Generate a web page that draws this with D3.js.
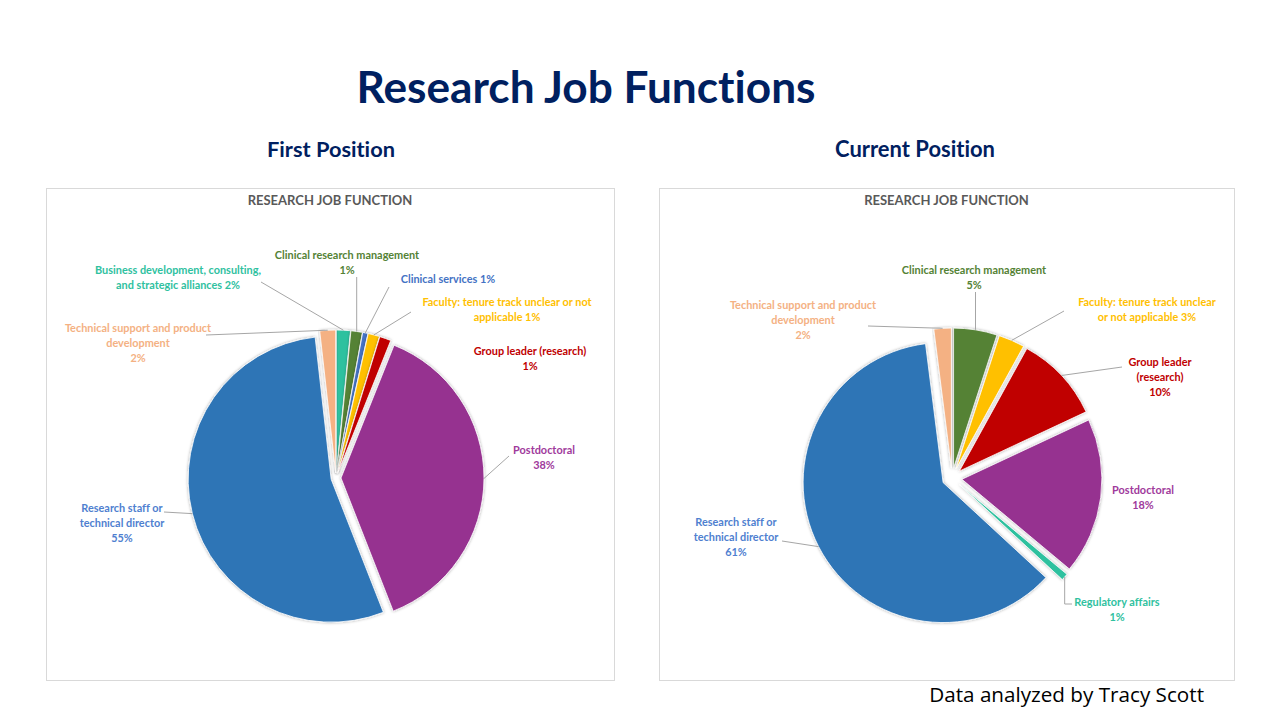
<!DOCTYPE html>
<html>
<head>
<meta charset="utf-8">
<script src="https://cdn.jsdelivr.net/npm/d3@7"></script>
<style>
  body { margin: 0; background: #fff; }
  svg { display: block; }
  text { font-variant-ligatures: none; font-feature-settings: "liga" 0; }
</style>
</head>
<body>
<svg id="chart"></svg>
<script>
// ---- data ----
const firstCategories = [
  "Business development, consulting, and strategic alliances",
  "Clinical research management",
  "Clinical services",
  "Faculty: tenure track unclear or not applicable",
  "Group leader (research)",
  "Postdoctoral",
  "Research staff or technical director",
  "Technical support and product development"
];
const firstValues = [1.6, 1.3, 0.6, 1.3, 1.3, 38.3, 54.6, 1.8];
const firstPct = [2, 1, 1, 1, 1, 38, 55, 2];

const currentCategories = [
  "Clinical research management",
  "Faculty: tenure track unclear or not applicable",
  "Group leader (research)",
  "Postdoctoral",
  "Regulatory affairs",
  "Research staff or technical director",
  "Technical support and product development"
];
const currentValues = [5, 3, 10, 18, 0.8, 61, 2];
const currentPct = [5, 3, 10, 18, 1, 61, 2];

// ---- styles ----
const sliceColor = {
  "Business development, consulting, and strategic alliances": "#2fc19f",
  "Clinical research management": "#548235",
  "Clinical services": "#4472c4",
  "Faculty: tenure track unclear or not applicable": "#ffc000",
  "Group leader (research)": "#c00000",
  "Postdoctoral": "#963290",
  "Research staff or technical director": "#2e75b6",
  "Technical support and product development": "#f4b183",
  "Regulatory affairs": "#2fc19f"
};
const labelColor = Object.assign({}, sliceColor, {
  "Research staff or technical director": "#4f7fd0",
  "Postdoctoral": "#a03a9c"
});

const W = 1280, H = 720;
const svg = d3.select("#chart").attr("width", W).attr("height", H);
svg.append("rect").attr("width", W).attr("height", H).attr("fill", "#fff");

const defs = svg.append("defs");
const f = defs.append("filter").attr("id", "glow")
  .attr("x", "-10%").attr("y", "-10%").attr("width", "120%").attr("height", "120%");
f.append("feDropShadow").attr("dx", 0).attr("dy", 0).attr("stdDeviation", 1.6)
  .attr("flood-color", "#000").attr("flood-opacity", 0.35);

function fitWidth(sel, target) {
  const fs = +sel.attr("font-size");
  const w = sel.node().getComputedTextLength();
  sel.attr("font-size", fs * target / w);
}

// headings
const title = svg.append("text").attr("x", 586).attr("y", 103)
  .attr("text-anchor", "middle").attr("font-family", "Lato, sans-serif")
  .attr("font-weight", 700).attr("font-size", 40).attr("fill", "#002060")
  .text("Research Job Functions");
fitWidth(title, 459);

[["First Position", 331], ["Current Position", 915]].forEach(([t, x]) => {
  const s = svg.append("text").attr("x", x).attr("y", 157)
    .attr("text-anchor", "middle").attr("font-family", "Lato, sans-serif")
    .attr("font-weight", 700).attr("font-size", 20).attr("fill", "#002060").text(t);
  fitWidth(s, t === "First Position" ? 128 : 160);
});

const credit = svg.append("text").attr("x", 1204).attr("y", 702)
  .attr("text-anchor", "end").attr("font-family", "'Open Sans', sans-serif")
  .attr("font-size", 20).attr("fill", "#000").text("Data analyzed by Tracy Scott");
fitWidth(credit, 275);

// ---- chart layouts ----
const layouts = [
  {
    cats: firstCategories, vals: firstValues, pct: firstPct,
    frame: [46, 188, 568, 492], cx: 336, cy: 478, r: 143, explode: 5,
    labels: {
      "Business development, consulting, and strategic alliances": { x: 178, y: 274, words: [3, 4], from: [261, 282] },
      "Clinical research management": { x: 347, y: 259, words: [3, 1], vert: 277 },
      "Clinical services": { x: 448, y: 283, words: [3], from: [389, 287] },
      "Faculty: tenure track unclear or not applicable": { x: 507, y: 306, words: [6, 2], from: [411, 312] },
      "Group leader (research)": { x: 530, y: 355, words: [3, 1] },
      "Postdoctoral": { x: 544, y: 454, words: [1, 1], from: [509, 456] },
      "Research staff or technical director": { x: 122, y: 512, words: [3, 2, 1], from: [164, 512] },
      "Technical support and product development": { x: 138, y: 332, words: [4, 1, 1], from: [206, 335] }
    }
  },
  {
    cats: currentCategories, vals: currentValues, pct: currentPct,
    frame: [659, 188, 575, 492], cx: 952, cy: 478, r: 140, explode: 10,
    labels: {
      "Clinical research management": { x: 974, y: 274, words: [3, 1], vert: 292 },
      "Faculty: tenure track unclear or not applicable": { x: 1147, y: 306, words: [4, 4], from: [1064, 311] },
      "Group leader (research)": { x: 1160, y: 366, words: [2, 1, 1], from: [1122, 367] },
      "Postdoctoral": { x: 1143, y: 494, words: [1, 1] },
      "Regulatory affairs": { x: 1117, y: 606, words: [2, 1], elbow: [1072, 604] },
      "Research staff or technical director": { x: 736, y: 526, words: [3, 2, 1], from: [782, 541] },
      "Technical support and product development": { x: 803, y: 309, words: [4, 1, 1], from: [868, 326] }
    }
  }
];

layouts.forEach(L => {
  const [fx, fy, fw, fh] = L.frame;
  const g = svg.append("g");
  g.append("rect").attr("x", fx + 0.5).attr("y", fy + 0.5).attr("width", fw).attr("height", fh)
    .attr("fill", "#fff").attr("stroke", "#d9d9d9").attr("stroke-width", 1);
  g.append("text").attr("x", fx + fw / 2).attr("y", fy + 17)
    .attr("text-anchor", "middle").attr("font-family", "Lato, sans-serif")
    .attr("font-weight", 700).attr("font-size", 13).attr("fill", "#595959")
    .text("RESEARCH JOB FUNCTION");

  const data = L.cats.map((c, i) => ({ cat: c, value: L.vals[i], pct: L.pct[i] }));
  const arcs = d3.pie().sort(null).value(d => d.value)(data);
  const arc = d3.arc().innerRadius(0).outerRadius(L.r);
  const offset = a => {
    const m = (a.startAngle + a.endAngle) / 2;
    return [L.explode * Math.sin(m), -L.explode * Math.cos(m)];
  };
  const edgePoint = a => {
    const m = (a.startAngle + a.endAngle) / 2;
    const R = L.r + L.explode;
    return [L.cx + R * Math.sin(m), L.cy - R * Math.cos(m)];
  };

  const pg = g.append("g").attr("transform", `translate(${L.cx},${L.cy})`);
  pg.selectAll("path").data(arcs).join("path")
    .attr("transform", a => `translate(${offset(a)})`)
    .attr("d", arc)
    .attr("fill", a => sliceColor[a.data.cat])
    .attr("stroke", "#fff").attr("stroke-width", 0.8)
    .attr("filter", "url(#glow)");

  // leader lines
  arcs.forEach(a => {
    const lab = L.labels[a.data.cat];
    const [ex, ey] = edgePoint(a);
    let d = null;
    if (lab.from) d = `M${lab.from[0]},${lab.from[1]}L${ex},${ey}`;
    else if (lab.vert) d = `M${ex},${lab.vert}L${ex},${ey}`;
    else if (lab.elbow) d = `M${ex},${ey}L${ex},${lab.elbow[1]}L${lab.elbow[0]},${lab.elbow[1]}`;
    if (d) g.append("path").attr("d", d).attr("fill", "none")
      .attr("stroke", "#a6a6a6").attr("stroke-width", 1);
  });

  // data labels
  arcs.forEach(a => {
    const lab = L.labels[a.data.cat];
    const words = (a.data.cat + " " + a.data.pct + "%").split(" ");
    const lines = [];
    let k = 0;
    lab.words.forEach(n => { lines.push(words.slice(k, k + n).join(" ")); k += n; });
    g.append("text").attr("x", lab.x).attr("y", lab.y)
      .attr("text-anchor", "middle").attr("font-family", "Lato, sans-serif")
      .attr("font-weight", 700).attr("font-size", 10.9)
      .attr("fill", labelColor[a.data.cat])
      .selectAll("tspan").data(lines).join("tspan")
      .attr("x", lab.x).attr("dy", (t, i) => i ? 15 : 0).text(t => t);
  });
});
</script>
</body>
</html>
